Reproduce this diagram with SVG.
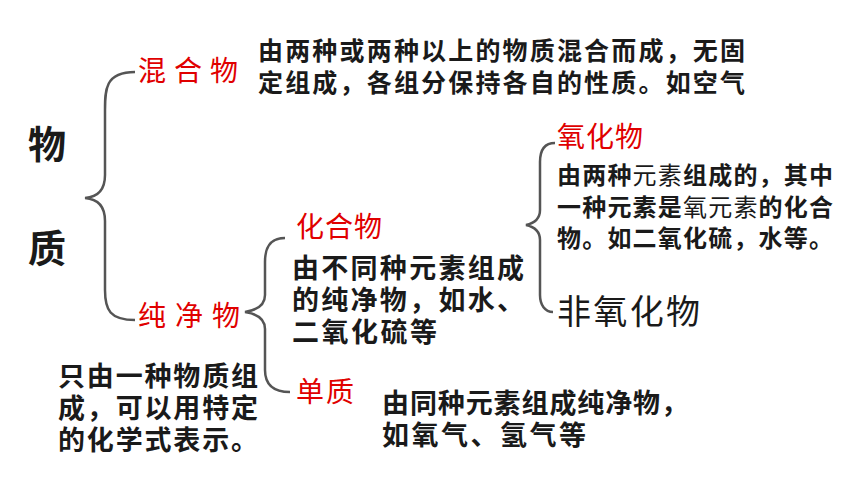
<svg xmlns="http://www.w3.org/2000/svg" width="864" height="486" viewBox="0 0 864 486">
<style>
text{font-family:"Noto Sans CJK SC","Noto Sans",sans-serif;fill:#1a1a1a}
.r{fill:#e00000;font-size:28px}
.b{font-weight:bold;font-size:25px}
.c{font-weight:bold;font-size:27px}
.s{font-weight:bold;font-size:24px}
.n{font-weight:normal}
.br{fill:none;stroke:#555;stroke-width:2.5}
</style>
<rect width="864" height="486" fill="#fff"/>
<g id="connectors">
<path class="br" d="M135,72 C105,72 105,90 105,110 L105,175 C105,190 98,197 85,198 C98,199 105,206 105,221 L105,290 C105,310 110,320 135,320"/>
<path class="br" d="M285,238 C268,238 265,250 265,262 L265,295 C265,305 258,310 245,312 C258,314 265,319 265,329 L265,370 C265,382 270,392 290,392"/>
<path class="br" d="M555,143 C543,143 540,152 540,162 L540,210 C540,218 535,223 526,225 C535,227 540,232 540,240 L540,295 C540,305 545,312 553,312"/>
</g>
<g id="root"><text x="28" y="158" font-size="38" font-weight="bold">物</text><text x="28" y="262" font-size="38" font-weight="bold">质</text></g>
<g id="mixture"><text class="r" x="138" y="81" font-size="33" textLength="100">混合物</text>
<text class="b" x="258" y="60" textLength="487">由两种或两种以上的物质混合而成，无固</text>
<text class="b" x="258" y="92" textLength="487">定组成，各组分保持各自的性质。如空气</text></g>
<g id="pure"><text class="r" x="138" y="326" font-size="33" textLength="102">纯净物</text>
<text class="c" x="58" y="386" textLength="200">只由一种物质组</text>
<text class="c" x="58" y="418" textLength="200">成，可以用特定</text>
<text class="c" x="58" y="450" textLength="200">的化学式表示。</text></g>
<g id="compound"><text class="r" x="296" y="237" textLength="86">化合物</text>
<text class="c" x="292" y="278" textLength="232">由不同种元素组成</text>
<text class="c" x="292" y="310" textLength="232">的纯净物，如水、</text>
<text class="c" x="292" y="342" textLength="145">二氧化硫等</text></g>
<g id="element"><text class="r" x="296" y="402" textLength="58">单质</text>
<text class="c" x="382" y="413" textLength="306">由同种元素组成纯净物，</text>
<text class="c" x="382" y="445" textLength="204">如氧气、氢气等</text></g>
<g id="oxide"><text class="r" x="557" y="147" textLength="86">氧化物</text>
<text class="s" x="557" y="184" textLength="276">由两种<tspan class="n">元素</tspan>组成的，其中</text>
<text class="s" x="557" y="216" textLength="276">一种元素是<tspan class="n">氧元素</tspan>的化合</text>
<text class="s" x="557" y="247" textLength="276">物。如二氧化硫，水等。</text></g>
<g id="nonoxide"><text x="557" y="324" font-size="34" fill="#333" textLength="143">非氧化物</text></g>
</svg>
